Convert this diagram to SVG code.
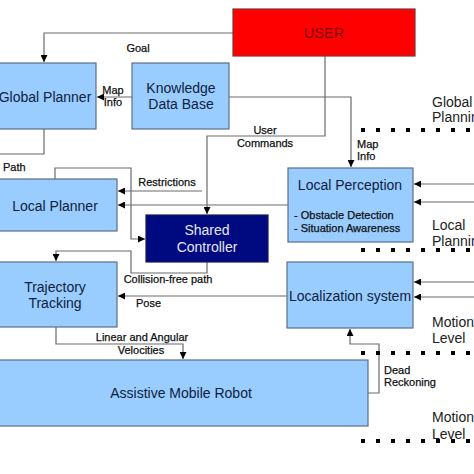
<svg xmlns="http://www.w3.org/2000/svg" width="474" height="474" viewBox="0 0 474 474">
<style>
.box{fill:#99ccff;stroke:#5b6f86;stroke-width:1.2}
.bt{font-family:"Liberation Sans",Arial,sans-serif;font-size:14px;fill:#0f1e3c;text-anchor:middle}
.lb{font-family:"Liberation Sans",Arial,sans-serif;font-size:11px;fill:#111;stroke:#111;stroke-width:0.25}
.lv{font-family:"Liberation Sans",Arial,sans-serif;font-size:14px;fill:#222}
.ln{fill:none;stroke:#6a6a6a;stroke-width:1.2}
.dot{stroke:#000;stroke-width:4;stroke-dasharray:4 11}
</style>
<defs>
<marker id="ah" viewBox="0 0 8 8" refX="8" refY="4" markerWidth="7" markerHeight="7" markerUnits="userSpaceOnUse" orient="auto">
<path d="M0,0 L8,4 L0,8 z" fill="#000"/>
</marker>
</defs>
<rect width="474" height="474" fill="#fff"/>
<g id="connectors">
<path class="ln" d="M233,33 H44 V62" marker-end="url(#ah)"/>
<path class="ln" d="M132,97 H97" marker-end="url(#ah)"/>
<path class="ln" d="M229,97 H351 V167" marker-end="url(#ah)"/>
<path class="ln" d="M44,129 V154 H0"/>
<path class="ln" d="M325,56 V136 H207 V214" marker-end="url(#ah)"/>
<path class="ln" d="M55,179 V168 H131 V239 H145" marker-end="url(#ah)"/>
<path class="ln" d="M202,191 H118" marker-end="url(#ah)"/>
<path class="ln" d="M288,205 H118" marker-end="url(#ah)"/>
<path class="ln" d="M207,262 V273 H131 V251 H56 V261" marker-end="url(#ah)"/>
<path class="ln" d="M287,296 H118" marker-end="url(#ah)"/>
<path class="ln" d="M56,327 V344 H183 V359" marker-end="url(#ah)"/>
<path class="ln" d="M368,393 H379 V344 H350 V329" marker-end="url(#ah)"/>
<path class="ln" d="M474,184 H414" marker-end="url(#ah)"/>
<path class="ln" d="M474,202 H414" marker-end="url(#ah)"/>
<path class="ln" d="M474,282 H414" marker-end="url(#ah)"/>
<path class="ln" d="M474,297 H414" marker-end="url(#ah)"/>
</g>
<g id="levels">
<line class="dot" x1="361" y1="130" x2="480" y2="130"/>
<line class="dot" x1="361" y1="250" x2="480" y2="250"/>
<line class="dot" x1="361" y1="353" x2="480" y2="353"/>
<line class="dot" x1="361" y1="441" x2="480" y2="441"/>
<text class="lv" x="432" y="107">Global</text>
<text class="lv" x="432" y="122">Planning</text>
<text class="lv" x="432" y="230">Local</text>
<text class="lv" x="432" y="246">Planning</text>
<text class="lv" x="432" y="327">Motion</text>
<text class="lv" x="432" y="343">Level</text>
<text class="lv" x="432" y="422">Motion</text>
<text class="lv" x="432" y="439">Level</text>
</g>
<g id="labels">
<text class="lb" x="138" y="52" text-anchor="middle">Goal</text>
<text class="lb" x="113" y="94" text-anchor="middle">Map</text>
<text class="lb" x="113" y="106" text-anchor="middle">Info</text>
<text class="lb" x="3" y="171">Path</text>
<text class="lb" x="167" y="186" text-anchor="middle">Restrictions</text>
<text class="lb" x="265" y="134" text-anchor="middle">User</text>
<text class="lb" x="265" y="147" text-anchor="middle">Commands</text>
<text class="lb" x="357" y="148">Map</text>
<text class="lb" x="357" y="160">Info</text>
<text class="lb" x="168" y="283" text-anchor="middle">Collision-free path</text>
<text class="lb" x="136" y="307">Pose</text>
<text class="lb" x="142" y="341" text-anchor="middle">Linear and Angular</text>
<text class="lb" x="141" y="354" text-anchor="middle">Velocities</text>
<text class="lb" x="384" y="374">Dead</text>
<text class="lb" x="384" y="386">Reckoning</text>
</g>
<g id="user">
<rect x="233" y="9" width="182" height="47" fill="#ff0000" stroke="#8a3030" stroke-width="1.2"/>
<text class="bt" x="324" y="38" style="fill:#7a0000;font-size:14.5px">USER</text>
</g>
<g id="global-planner">
<rect class="box" x="-6" y="63" width="102" height="66"/>
<text class="bt" x="45" y="102">Global Planner</text>
</g>
<g id="knowledge-data-base">
<rect class="box" x="132" y="63" width="97" height="66"/>
<text class="bt" x="181" y="93">Knowledge</text>
<text class="bt" x="181" y="109">Data Base</text>
</g>
<g id="local-planner">
<rect class="box" x="-6" y="179" width="123" height="52"/>
<text class="bt" x="55" y="211">Local Planner</text>
</g>
<g id="shared-controller">
<rect x="146" y="215" width="122" height="47" fill="#000a80" stroke="#1a1a50" stroke-width="1.2"/>
<text class="bt" x="207" y="235" style="fill:#e6e6f0">Shared</text>
<text class="bt" x="207" y="252" style="fill:#e6e6f0">Controller</text>
</g>
<g id="local-perception">
<rect class="box" x="288" y="168" width="125" height="74"/>
<text class="bt" x="350" y="190">Local Perception</text>
<text class="lb" x="294" y="219">- Obstacle Detection</text>
<text class="lb" x="294" y="232">- Situation Awareness</text>
</g>
<g id="trajectory-tracking">
<rect class="box" x="-6" y="262" width="123" height="65"/>
<text class="bt" x="55" y="292">Trajectory</text>
<text class="bt" x="55" y="308">Tracking</text>
</g>
<g id="localization-system">
<rect class="box" x="287" y="262" width="126" height="66"/>
<text class="bt" x="350" y="301">Localization system</text>
</g>
<g id="assistive-mobile-robot">
<rect class="box" x="-6" y="360" width="374" height="66"/>
<text class="bt" x="181" y="398">Assistive Mobile Robot</text>
</g>
</svg>
